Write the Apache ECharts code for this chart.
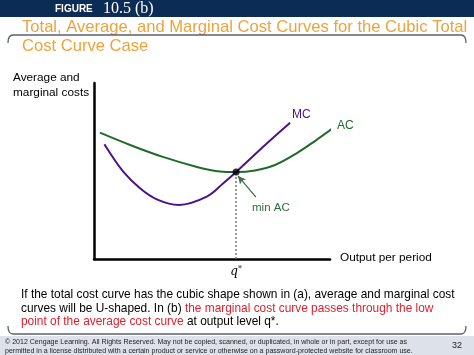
<!DOCTYPE html>
<html>
<head>
<meta charset="utf-8">
<script src="https://cdn.jsdelivr.net/npm/echarts@6/dist/echarts.min.js"></script>
<style>html,body{margin:0;padding:0;background:#fff;}#c{width:474px;height:355px;}</style>
</head>
<body>
<div id="c"></div>
<script>
// Average cost curve (x = output, y = cost)
const acData = [[2.5,71.8],[15.3,64.8],[29.2,58.0],[43.6,52.3],[53.4,49.7],[60.2,49.4],[68.2,50.3],[76.7,53.4],[86.0,60.2],[93.6,67.0],[100.8,73.9]];
// Marginal cost curve
const mcData = [[4.4,65.2],[12.4,49.6],[19.5,40.2],[26.6,33.9],[36.0,30.7],[47.8,35.4],[54.8,43.0],[60.2,49.4],[71.7,63.8],[83.1,77.4]];
// Minimum of AC (where MC crosses AC)
const qStar = 60.2;
const minAC = 49.4;
// Annotation arrow for "min AC"
const arrowFrom = [68.6, 35.2];
const arrowTo = [61.0, 47.2];
// Texts
const headerFig = 'FIGURE';
const headerNum = '10.5 (b)';
const titleLines = ['Total, Average, and Marginal Cost Curves for the Cubic Total', 'Cost Curve Case'];
const yTitle = ['Average and', 'marginal costs'];
const xTitle = 'Output per period';

const chart = echarts.init(document.getElementById('c'), null, {renderer: 'canvas'});
const font = 'Liberation Sans, Arial, sans-serif';
const green = '#1f6b2c';
const purple = '#4a1488';
const orange = '#eea33a';
const red = '#e0202e';
const brk = {stroke: '#5a6070', lineWidth: 1.3, fill: null};
const bodyFont = '11.9px ' + font;

function bracket(yLine, yEnd) {
  return [
    {type: 'line', shape: {x1: 13, y1: yLine, x2: 461, y2: yLine}, style: brk},
    {type: 'bezierCurve', shape: {x1: 13, y1: yLine, cpx1: 8, cpy1: yLine, x2: 8, y2: yEnd}, style: brk},
    {type: 'bezierCurve', shape: {x1: 461, y1: yLine, cpx1: 466, cpy1: yLine, x2: 466, y2: yEnd}, style: brk}
  ];
}

chart.setOption({
  animation: false,
  grid: {left: 94, top: 83, width: 236, height: 176},
  xAxis: {
    type: 'value', min: 0, max: 100,
    axisLine: {show: true, lineStyle: {color: '#000', width: 2.5}},
    axisTick: {show: false},
    splitLine: {show: false},
    axisLabel: {
      show: true, customValues: [qStar], margin: 6,
      formatter: () => '{q|q}{s|*}',
      rich: {
        q: {fontFamily: 'DejaVu Serif, serif', fontStyle: 'italic', fontSize: 12, color: '#000'},
        s: {fontFamily: 'DejaVu Serif, serif', fontSize: 8, color: '#000', verticalAlign: 'top', padding: [0,0,6,0]}
      }
    }
  },
  yAxis: {
    type: 'value', min: 0, max: 100,
    axisLine: {show: true, lineStyle: {color: '#000', width: 2.5}},
    axisTick: {show: false},
    axisLabel: {show: false},
    splitLine: {show: false}
  },
  series: [
    {
      type: 'line', name: 'AC', data: acData, smooth: 0.35, symbol: 'none', clip: false,
      lineStyle: {color: green, width: 2},
      markLine: {
        silent: true, symbol: ['none', 'none'], label: {show: false},
        lineStyle: {color: '#777', width: 1.5, type: [2, 2]},
        data: [[{coord: [qStar, 0]}, {coord: [qStar, minAC]}]]
      }
    },
    {
      type: 'line', name: 'MC', data: mcData, smooth: 0.35, symbol: 'none', clip: false,
      lineStyle: {color: purple, width: 2},
      markLine: {
        silent: true, symbol: ['none', 'arrow'], symbolSize: [6, 8], label: {show: false},
        lineStyle: {color: '#3e6e48', width: 1.3, type: 'solid'},
        data: [[{coord: arrowFrom}, {coord: arrowTo}]]
      }
    },
    {
      type: 'scatter', data: [[qStar, minAC]], symbolSize: 7,
      itemStyle: {color: '#000'}, z: 5
    }
  ],
  graphic: [
    {type: 'rect', shape: {x: 0, y: 0, width: 474, height: 17}, style: {fill: '#0b2c55'}},
    {type: 'text', x: 55, y: 9, style: {text: headerFig, fill: '#fff', font: 'bold 10px "Liberation Sans Narrow", "Liberation Sans", Arial', textVerticalAlign: 'middle'}},
    {type: 'text', x: 103, y: 9, style: {text: headerNum, fill: '#fff', font: '16px "Liberation Serif", "DejaVu Serif", serif', textVerticalAlign: 'middle'}},
    {type: 'text', x: 22, y: 27, style: {text: titleLines[0], fill: orange, font: '16.6px ' + font, textVerticalAlign: 'middle'}},
    {type: 'text', x: 22, y: 46, style: {text: titleLines[1], fill: orange, font: '16.6px ' + font, textVerticalAlign: 'middle'}},
    ...bracket(35, 43),
    ...bracket(334, 326),
    {type: 'text', x: 13, y: 78, style: {text: yTitle[0], fill: '#000', font: '11.8px ' + font, textVerticalAlign: 'middle'}},
    {type: 'text', x: 13, y: 93, style: {text: yTitle[1], fill: '#000', font: '11.8px ' + font, textVerticalAlign: 'middle'}},
    {type: 'text', x: 340, y: 258, style: {text: xTitle, fill: '#000', font: '11.8px ' + font, textVerticalAlign: 'middle'}},
    {type: 'text', x: 292, y: 115, style: {text: 'MC', fill: purple, font: '12px ' + font, textVerticalAlign: 'middle'}},
    {type: 'text', x: 337, y: 126, style: {text: 'AC', fill: green, font: '12px ' + font, textVerticalAlign: 'middle'}},
    {type: 'text', x: 252, y: 208, style: {text: 'min AC', fill: '#2f6b3a', font: '11.5px ' + font, textVerticalAlign: 'middle'}},
    {type: 'text', x: 21, y: 295, style: {
      text: 'If the total cost curve has the cubic shape shown in (a), average and marginal cost',
      fill: '#000', font: bodyFont, textVerticalAlign: 'middle'}},
    {type: 'text', x: 21, y: 309, style: {
      rich: {b: {fill: '#000', font: bodyFont}, r: {fill: red, font: bodyFont}},
      text: '{b|curves will be U-shaped. In (b) }{r|the marginal cost curve passes through the low}',
      textVerticalAlign: 'middle'}},
    {type: 'text', x: 21, y: 322, style: {
      rich: {b: {fill: '#000', font: bodyFont}, r: {fill: red, font: bodyFont}},
      text: '{r|point of the average cost curve}{b| at output level q*.}',
      textVerticalAlign: 'middle'}},
    {type: 'rect', shape: {x: 0, y: 336, width: 474, height: 19}, style: {fill: '#dde2ea'}},
    {type: 'text', x: 5, y: 342, style: {text: '\u00a9 2012 Cengage Learning. All Rights Reserved. May not be copied, scanned, or duplicated, in whole or in part, except for use as', fill: '#222', font: '7.05px ' + font, textVerticalAlign: 'middle'}},
    {type: 'text', x: 5, y: 351, style: {text: 'permitted in a license distributed with a certain product or service or otherwise on a password-protected website for classroom use.', fill: '#222', font: '7.05px ' + font, textVerticalAlign: 'middle'}},
    {type: 'text', x: 452, y: 346, style: {text: '32', fill: '#222', font: '9px ' + font, textVerticalAlign: 'middle'}}
  ]
});
</script>
</body>
</html>
